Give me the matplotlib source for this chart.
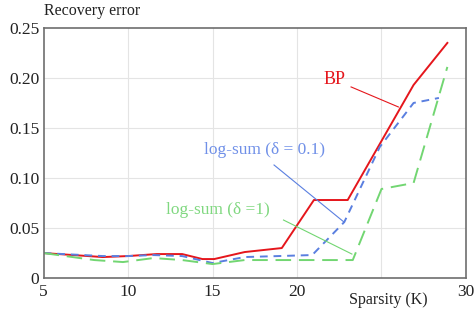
import matplotlib.pyplot as plt
from matplotlib.ticker import FixedLocator

# --- data ---
bp_k = [5, 8.5, 10, 11.7, 13.2, 14.4, 15.1, 16.9, 19.1, 21.0, 23.0, 26.9, 28.9]
bp_err = [0.025, 0.021, 0.022, 0.024, 0.024, 0.019, 0.019, 0.026, 0.030, 0.078, 0.078, 0.193, 0.235]

ls01_k = [5, 8.5, 10, 11.5, 13.2, 15.0, 16.9, 20.9, 22.8, 24.9, 26.9, 28.4]
ls01_err = [0.025, 0.022, 0.022, 0.023, 0.022, 0.015, 0.021, 0.023, 0.056, 0.131, 0.175, 0.180]

ls1_k = [5, 8.0, 9.7, 11.5, 13.2, 15.0, 16.9, 19.0, 23.3, 25.0, 26.9, 28.9]
ls1_err = [0.025, 0.018, 0.016, 0.020, 0.018, 0.014, 0.018, 0.018, 0.018, 0.089, 0.095, 0.211]

x_ticks = [5, 10, 15, 20, 30]
y_ticks = [0, 0.05, 0.10, 0.15, 0.20, 0.25]
y_tick_labels = ['0', '0.05', '0.10', '0.15', '0.20', '0.25']

red = '#e5161c'
blue = '#5a7fe0'
green = '#72d672'

plt.rcParams['font.family'] = ['Liberation Serif', 'DejaVu Serif']

fig = plt.figure(figsize=(4.74, 3.10), dpi=100)
ax = fig.add_axes([0.092, 0.103, 0.891, 0.807])

ax.plot(bp_k, bp_err, color=red, lw=1.4, label='BP')
ax.plot(ls01_k, ls01_err, color=blue, lw=1.4, dashes=(4, 3))
ax.plot(ls1_k, ls1_err, color=green, lw=1.4, dashes=(8, 4))

ax.set_xlim(5, 30)
ax.set_ylim(0, 0.25)
ax.xaxis.set_major_locator(FixedLocator(x_ticks))
ax.set_yticks(y_ticks)
ax.set_yticklabels(y_tick_labels)
ax.tick_params(length=0, labelsize=12.5, colors='#222222', pad=4)
ax.tick_params(axis='y', pad=3)

# grid at every 5 / 0.05 inside the box
for gx in [10, 15, 20, 25]:
    ax.axvline(gx, color='#e4e4e4', lw=0.8, zorder=0)
for gy in [0.05, 0.10, 0.15, 0.20]:
    ax.axhline(gy, color='#e4e4e4', lw=0.8, zorder=0)

for s in ax.spines.values():
    s.set_color('#6e6e6e')
    s.set_linewidth(1.2)

# axis titles placed like the reference
fig.text(0.092, 0.965, 'Recovery error', fontsize=11.5, ha='left', va='center', color='#222222')
ax.text(25.4, -0.0215, 'Sparsity (K)', fontsize=11.5, ha='center', va='center', color='#222222')

# labelled leaders
ax.text(22.2, 0.198, 'BP', color=red, fontsize=13, ha='center', va='center')
ax.plot([23.2, 26.0], [0.191, 0.171], color=red, lw=0.8)

ax.text(18.05, 0.128, 'log-sum (\u03b4 = 0.1)', color='#7090e8', fontsize=12.5, ha='center', va='center')
ax.plot([18.64, 22.78], [0.113, 0.056], color=blue, lw=0.8)

ax.text(15.33, 0.068, 'log-sum (\u03b4 =1)', color='#80d880', fontsize=12.5, ha='center', va='center')
ax.plot([19.2, 23.25], [0.058, 0.024], color=green, lw=0.8)

fig.savefig('out.png', dpi=100)
